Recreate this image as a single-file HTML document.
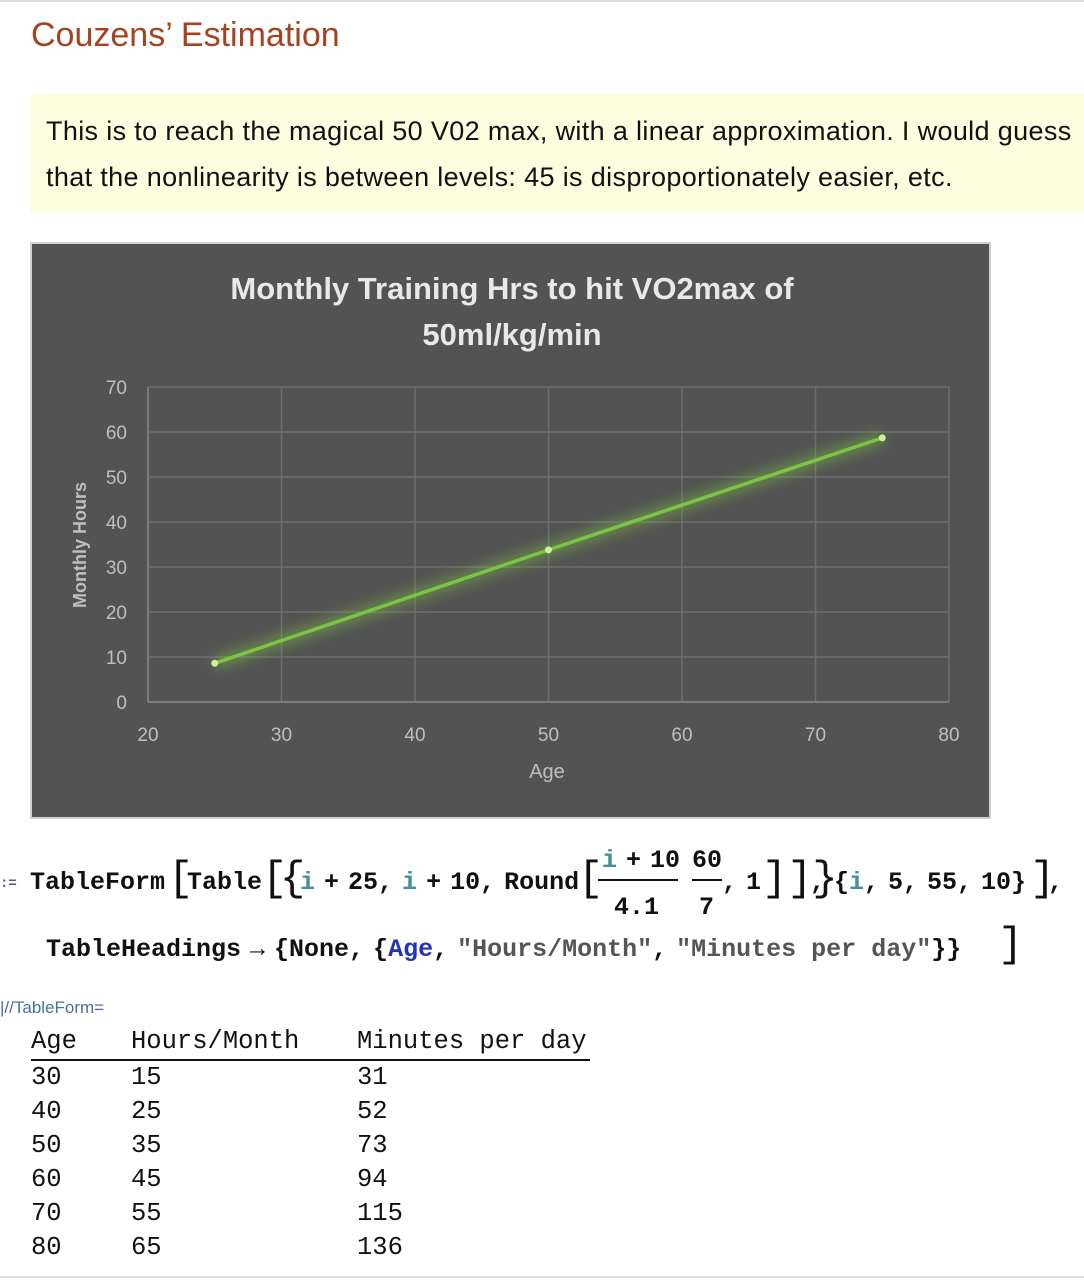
<!DOCTYPE html>
<html><head><meta charset="utf-8"><style>
body{margin:0;width:1084px;height:1286px;background:#fff;position:relative;overflow:hidden;font-family:"Liberation Sans",sans-serif}
.abs{position:absolute}
.mono{font-family:"Liberation Mono",monospace}
.cd{position:absolute;white-space:nowrap;word-spacing:-6px}
.br{font-size:42px;font-weight:normal}
.iv{color:#4a8ea0}
.st{color:#555;word-spacing:0}
</style></head><body>
<div class="abs" style="left:0;top:0;width:1084px;height:2px;background:#ddd"></div>
<div class="abs" style="left:31px;top:16px;font-size:34px;color:#a6431f">Couzens’ Estimation</div>
<div class="abs" style="left:30px;top:94px;width:1054px;height:118px;background:#fdfde0"></div>
<div class="abs" style="left:46px;top:108px;font-size:27px;letter-spacing:0.35px;line-height:46px;color:#111;white-space:nowrap">This is to reach the magical 50 V02 max, with a linear approximation. I would guess<br>that the nonlinearity is between levels: 45 is disproportionately easier, etc.</div>

<svg class="abs" style="left:0;top:0" width="1084" height="830" id="chart">
<defs><filter id="glow" x="-20%" y="-50%" width="140%" height="200%"><feGaussianBlur stdDeviation="6"/></filter></defs>
<rect x="31" y="243" width="959" height="575" fill="#535353" stroke="#d0d0d0" stroke-width="2"/>
<text x="512" y="299" text-anchor="middle" font-size="31" font-weight="bold" fill="#e8e8e8" font-family="Liberation Sans, sans-serif">Monthly Training Hrs to hit VO2max of</text>
<text x="512" y="345" text-anchor="middle" font-size="31" font-weight="bold" fill="#e8e8e8" font-family="Liberation Sans, sans-serif">50ml/kg/min</text>
<g id="grid"></g>
<g id="series"></g>
<text x="547" y="778" text-anchor="middle" font-size="20" fill="#bfbfbf" font-family="Liberation Sans, sans-serif">Age</text>
<text transform="translate(86,545) rotate(-90)" text-anchor="middle" font-size="18" font-weight="bold" fill="#bfbfbf" font-family="Liberation Sans, sans-serif">Monthly Hours</text>
</svg>

<div class="abs mono" style="left:0;top:842px;width:1084px;height:140px;font-size:25px;font-weight:bold;color:#111;line-height:34px">
<div class="cd" style="left:0;top:25px;font-size:14px;color:#557">:=</div>
<div class="cd" style="left:30px;top:24px">TableForm</div>
<div class="cd br" style="left:168px;top:20px">[</div>
<div class="cd" style="left:187px;top:24px">Table</div>
<div class="cd br" style="left:262px;top:20px">[</div>
<div class="cd br" style="left:280px;top:20px">{</div>
<div class="cd" style="left:300px;top:24px"><span class="iv">i</span> + 25, <span class="iv">i</span> + 10, Round</div>
<div class="cd br" style="left:578px;top:20px">[</div>
<div class="cd" style="left:602px;top:2px"><span class="iv">i</span> + 10</div>
<div style="position:absolute;left:598px;top:37px;width:80px;height:2px;background:#111"></div>
<div class="cd" style="left:614px;top:49px">4.1</div>
<div class="cd" style="left:692px;top:2px">60</div>
<div style="position:absolute;left:692px;top:37px;width:30px;height:2px;background:#111"></div>
<div class="cd" style="left:699px;top:49px">7</div>
<div class="cd" style="left:722px;top:24px">, 1</div>
<div class="cd br" style="left:762px;top:20px">]]}</div>
<div class="cd" style="left:810px;top:24px">, {<span class="iv">i</span>, 5, 55, 10}</div>
<div class="cd br" style="left:1030px;top:20px">]</div>
<div class="cd" style="left:1048px;top:24px">,</div>
<div class="cd" style="left:46px;top:91px">TableHeadings → {None, {<span style="color:#2233bb">Age</span>, <span class="st">"Hours/Month"</span>, <span class="st">"Minutes per day"</span>}}</div>
<div class="cd br" style="left:998px;top:86px">]</div>
</div>
<div class="abs" style="left:0;top:998px;font-size:17px;color:#4a6f9a">|//TableForm=</div>

<svg class="abs" style="left:0;top:1020px" width="620" height="260" id="tbl"></svg>
<div class="abs" style="left:0;top:1276px;width:1084px;height:2px;background:#ddd"></div>

<script>
const ages=[25,50,75];
const hours=[8.6,33.8,58.7];
const xTicks=[20,30,40,50,60,70,80];
const yTicks=[0,10,20,30,40,50,60,70];
const tableAges=[30,40,50,60,70,80];
const tableHours=[15,25,35,45,55,65];
const tableMinutes=[31,52,73,94,115,136];

const NS="http://www.w3.org/2000/svg";
const X0=148,X1=949,Y0=702,Y1=387;
const xs=v=>X0+(v-20)/60*(X1-X0);
const ys=v=>Y0-(v)/70*(Y0-Y1);
function mk(tag,attrs,parent){const e=document.createElementNS(NS,tag);for(const k in attrs)e.setAttribute(k,attrs[k]);parent.appendChild(e);return e;}
const grid=document.getElementById('grid');
xTicks.forEach(t=>{
  const l=mk('line',{x1:xs(t),x2:xs(t),y1:Y1,y2:Y0,stroke:t===20?'#8a8a8a':'#6e6e6e','stroke-width':1.5},grid);
  
  
  const tx=mk('text',{x:xs(t),y:741,'text-anchor':'middle','font-size':19,fill:'#bfbfbf','font-family':'Liberation Sans, sans-serif'},grid);
  tx.textContent=t;
  
  
});
yTicks.forEach(t=>{
  const l=mk('line',{x1:X0,x2:X1,y1:ys(t),y2:ys(t),stroke:t===0?'#8a8a8a':'#6e6e6e','stroke-width':1.5},grid);
  
  
  const tx=mk('text',{x:127,y:ys(t)+7,'text-anchor':'end','font-size':19,fill:'#bfbfbf','font-family':'Liberation Sans, sans-serif'},grid);
  tx.textContent=t;
  
  
});
const ser=document.getElementById('series');
const pts=ages.map((a,i)=>xs(a)+','+ys(hours[i])).join(' ');
const g=mk('polyline',{points:pts,fill:'none',stroke:'#7fd03a','stroke-width':12,'stroke-opacity':0.45,filter:'url(#glow)'},ser);


const ln=mk('polyline',{points:pts,fill:'none',stroke:'#7cc443','stroke-width':3.5},ser);


ages.forEach((a,i)=>{
  const c=mk('circle',{cx:xs(a),cy:ys(hours[i]),r:3.5,fill:'#c8f0a0'},ser);
  
  
});

const tbl=document.getElementById('tbl');
const cols=[31,131,357];
['Age','Hours/Month','Minutes per day'].forEach((h,i)=>{
  const t=mk('text',{x:cols[i],y:28,'font-size':25.5,fill:'#111','font-family':'Liberation Mono, monospace'},tbl);
  t.textContent=h;
  
  
});
const hl=mk('line',{x1:31,x2:590,y1:40,y2:40,stroke:'#111','stroke-width':2},tbl);


tableAges.forEach((a,r)=>{
  [a,tableHours[r],tableMinutes[r]].forEach((v,i)=>{
    const t=mk('text',{x:cols[i],y:64+r*34,'font-size':25.5,fill:'#111','font-family':'Liberation Mono, monospace'},tbl);
    t.textContent=v;
    
    
  });
});
</script>
</body></html>
